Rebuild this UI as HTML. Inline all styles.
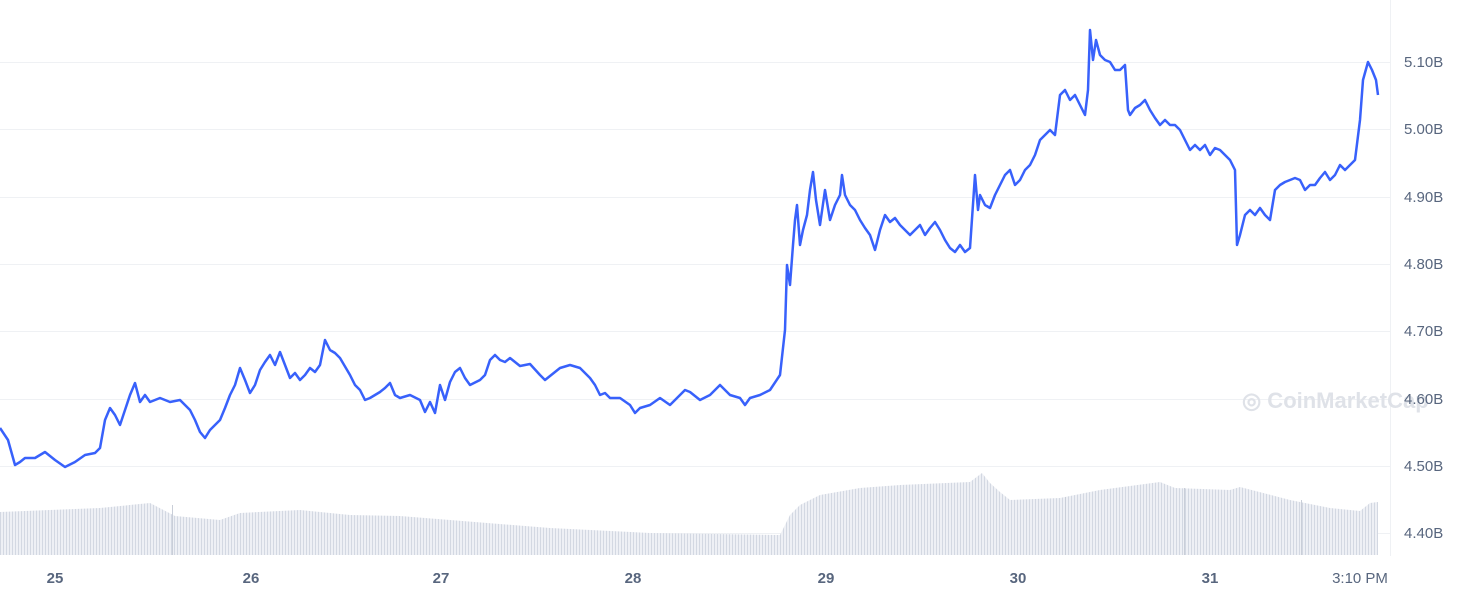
<!DOCTYPE html>
<html><head><style>
body{margin:0;background:#fff;}
svg{display:block;font-family:"Liberation Sans",sans-serif;}
</style></head><body>
<svg width="1462" height="594" viewBox="0 0 1462 594">
<defs>
<pattern id="vp" width="3" height="10" patternUnits="userSpaceOnUse"><rect width="3" height="10" fill="#eef0f5"/><rect width="1" height="10" fill="#d3d8e2"/></pattern>
</defs>
<g stroke="#eff1f4" stroke-width="1">
<line x1="0" x2="1390" y1="62.5" y2="62.5"/><line x1="0" x2="1390" y1="129.5" y2="129.5"/>
<line x1="0" x2="1390" y1="197.5" y2="197.5"/><line x1="0" x2="1390" y1="264.5" y2="264.5"/>
<line x1="0" x2="1390" y1="331.5" y2="331.5"/><line x1="0" x2="1390" y1="399.5" y2="399.5"/>
<line x1="0" x2="1390" y1="466.5" y2="466.5"/><line x1="0" x2="1390" y1="533.5" y2="533.5"/>
<line x1="1390.5" x2="1390.5" y1="0" y2="556"/>
</g>
<polygon fill="url(#vp)" points="0,555 0,512 100,508 150,503 175,516 220,520 240,513 300,510 350,515 400,516 450,520 550,528 650,533 780,535 790,515 800,505 820,495 860,488 900,485 970,482 982,473 990,483 1000,492 1010,500 1060,498 1100,490 1160,482 1175,488 1230,490 1240,487 1290,500 1330,508 1360,511 1370,503 1378,502 1378,555"/>
<g stroke="#c9ced8" stroke-width="1"><line x1="172.5" x2="172.5" y1="505" y2="555"/><line x1="1065.5" x2="1065.5" y1="497" y2="555"/><line x1="1184.5" x2="1184.5" y1="488" y2="555"/><line x1="1301.5" x2="1301.5" y1="500" y2="555"/></g>
<text x="1242" y="408" font-size="22" font-weight="bold" fill="#dfe2e8">◎ CoinMarketCap</text>
<polyline fill="none" stroke="#3861fb" stroke-width="2.5" stroke-linejoin="round" points="0,428 8,440 15,465 20,462 25,458 35,458 45,452 55,460 65,467 75,462 85,455 95,453 100,448 105,420 110,408 115,415 120,425 125,410 130,395 135,383 140,402 145,395 150,402 160,398 170,402 180,400 190,410 195,420 200,432 205,438 210,430 220,420 225,408 230,395 235,385 240,368 245,380 250,393 255,385 260,370 265,362 270,355 275,365 280,352 285,365 290,378 295,373 300,380 305,375 310,368 315,372 320,365 325,340 330,350 335,353 340,358 350,375 355,385 360,390 365,400 370,398 380,392 385,388 390,383 395,395 400,398 410,395 420,400 425,412 430,402 435,413 440,385 445,400 450,382 455,372 460,368 465,378 470,385 480,380 485,375 490,360 495,355 500,360 505,362 510,358 520,366 530,364 540,375 545,380 555,372 560,368 570,365 580,368 590,378 595,385 600,395 605,393 610,398 620,398 630,405 635,413 640,408 650,405 660,398 670,405 675,400 680,395 685,390 690,392 700,400 710,395 720,385 730,395 740,398 745,405 750,398 760,395 770,390 780,375 785,330 787,265 790,285 793,245 795,220 797,205 800,245 803,230 807,215 810,190 813,172 816,200 820,225 825,190 830,220 835,205 840,195 842,175 845,195 850,205 855,210 860,220 865,228 870,235 875,250 880,230 885,215 890,222 895,218 900,225 905,230 910,235 915,230 920,225 925,235 930,228 935,222 940,230 945,240 950,248 955,252 960,245 965,252 970,248 975,175 978,210 980,195 985,205 990,208 995,195 1000,185 1005,175 1010,170 1015,185 1020,180 1025,170 1030,165 1035,155 1040,140 1045,135 1050,130 1055,135 1060,95 1065,90 1070,100 1075,95 1080,105 1085,115 1088,90 1090,30 1093,60 1096,40 1100,55 1105,60 1110,62 1115,70 1120,70 1125,65 1128,110 1130,115 1135,108 1140,105 1145,100 1150,110 1155,118 1160,125 1165,120 1170,125 1175,125 1180,130 1185,140 1190,150 1195,145 1200,150 1205,145 1210,155 1215,148 1220,150 1225,155 1230,160 1235,170 1237,245 1240,235 1245,215 1250,210 1255,215 1260,208 1265,215 1270,220 1275,190 1280,185 1285,182 1290,180 1295,178 1300,180 1305,190 1310,185 1315,185 1320,178 1325,172 1330,180 1335,175 1340,165 1345,170 1350,165 1355,160 1360,120 1363,80 1368,62 1372,70 1376,80 1378,95"/>
<g font-size="15" fill="#58667e">
<text x="1404" y="67">5.10B</text><text x="1404" y="134">5.00B</text><text x="1404" y="202">4.90B</text><text x="1404" y="269">4.80B</text><text x="1404" y="336">4.70B</text><text x="1404" y="404">4.60B</text><text x="1404" y="471">4.50B</text><text x="1404" y="538">4.40B</text>
</g>
<g font-size="15" fill="#58667e" font-weight="bold" text-anchor="middle">
<text x="55" y="583">25</text><text x="251" y="583">26</text><text x="441" y="583">27</text><text x="633" y="583">28</text><text x="826" y="583">29</text><text x="1018" y="583">30</text><text x="1210" y="583">31</text>
<text x="1360" y="583" font-weight="normal">3:10 PM</text>
</g>
</svg>
</body></html>
